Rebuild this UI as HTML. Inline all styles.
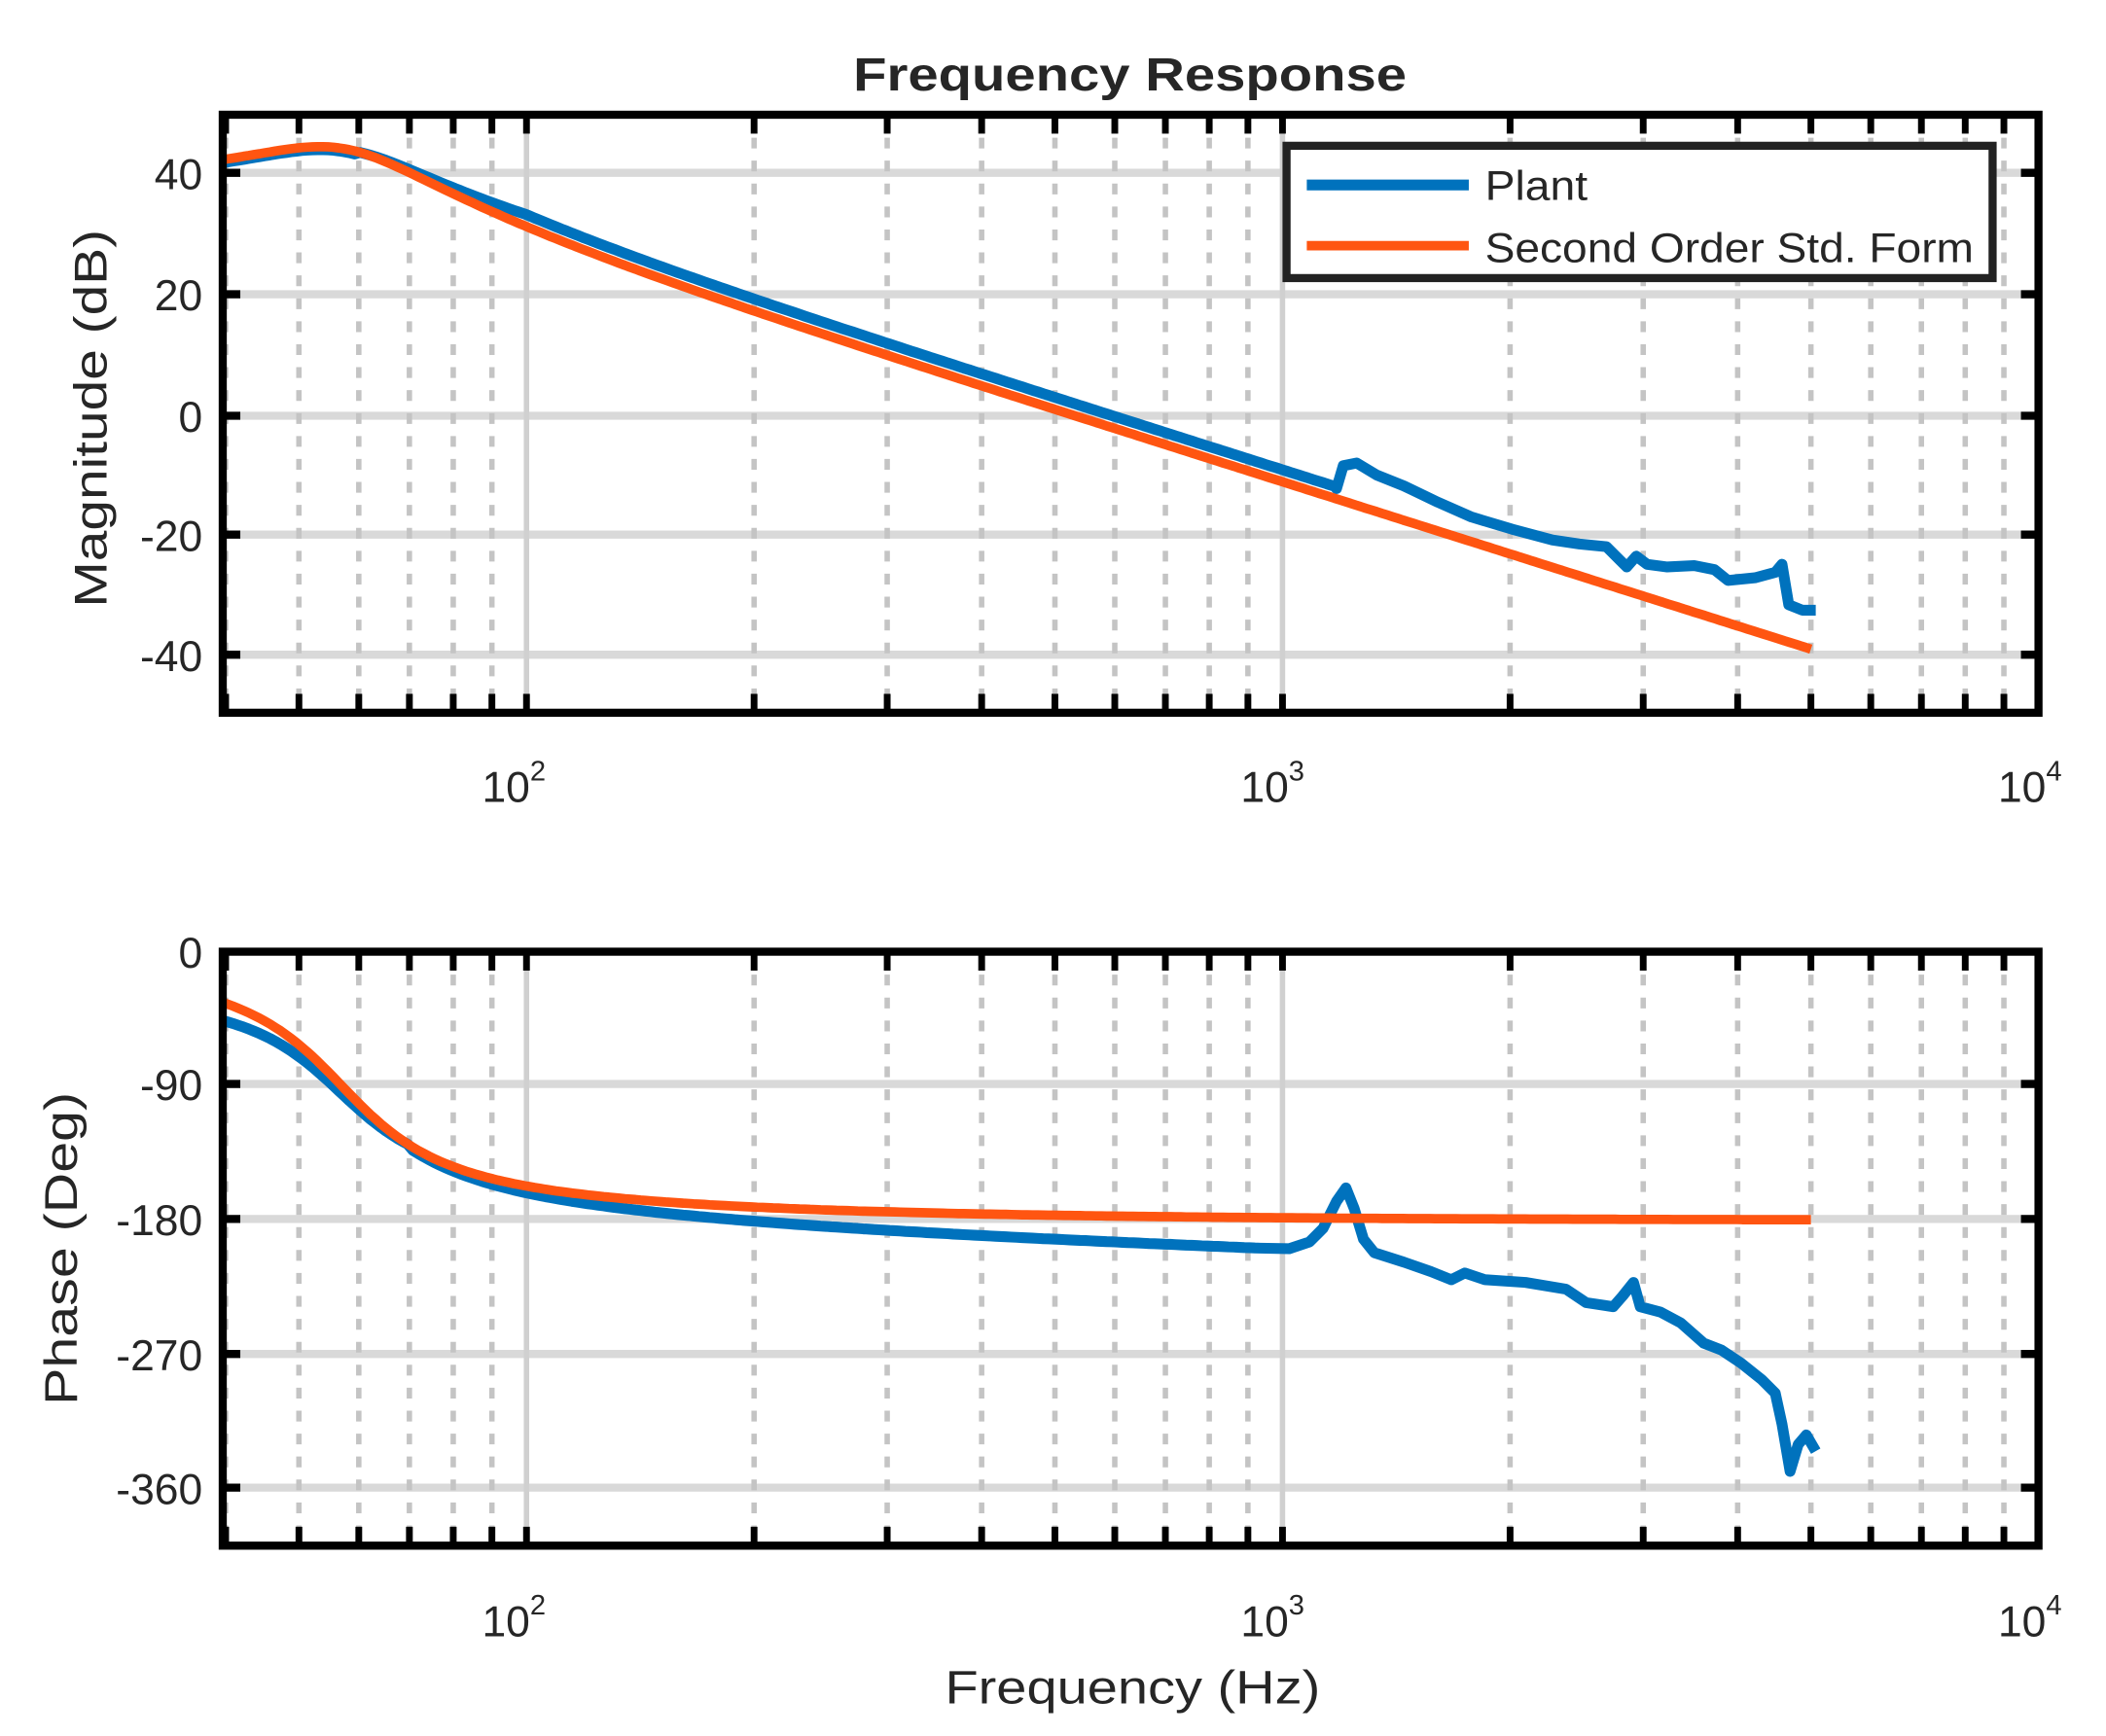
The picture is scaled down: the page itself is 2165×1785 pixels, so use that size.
<!DOCTYPE html>
<html><head><meta charset="utf-8"><style>
html,body{margin:0;padding:0;background:#fff;}
svg{display:block;}
text{font-family:"Liberation Sans",sans-serif;fill:#262626;}
</style></head><body>
<svg id="s" width="2165" height="1785" viewBox="0 0 1560 1286" preserveAspectRatio="none" xmlns="http://www.w3.org/2000/svg">
<rect width="1560" height="1286" fill="#fff"/>
<g id="g"></g>
<text x="837" y="67" text-anchor="middle" font-size="35" font-weight="bold" fill="#000" textLength="410" lengthAdjust="spacingAndGlyphs">Frequency Response</text>
<text transform="translate(79,310) rotate(-90)" text-anchor="middle" font-size="34" textLength="280" lengthAdjust="spacingAndGlyphs">Magnitude (dB)</text>
<text transform="translate(57,925) rotate(-90)" text-anchor="middle" font-size="34" textLength="232" lengthAdjust="spacingAndGlyphs">Phase (Deg)</text>
<text x="839" y="1262" text-anchor="middle" font-size="35" textLength="278" lengthAdjust="spacingAndGlyphs">Frequency (Hz)</text>
<g font-size="32" text-anchor="end">
<text x="150" y="140">40</text><text x="150" y="230">20</text><text x="150" y="320">0</text><text x="150" y="408">-20</text><text x="150" y="497">-40</text>
<text x="150" y="717">0</text><text x="150" y="815">-90</text><text x="150" y="915">-180</text><text x="150" y="1015">-270</text><text x="150" y="1114">-360</text>
</g>
<g font-size="32">
<text x="357" y="594">10<tspan font-size="21" dy="-16">2</tspan></text>
<text x="919" y="594">10<tspan font-size="21" dy="-16">3</tspan></text>
<text x="1480" y="594">10<tspan font-size="21" dy="-16">4</tspan></text>
<text x="357" y="1212">10<tspan font-size="21" dy="-16">2</tspan></text>
<text x="919" y="1212">10<tspan font-size="21" dy="-16">3</tspan></text>
<text x="1480" y="1212">10<tspan font-size="21" dy="-16">4</tspan></text>
</g>
</svg>
<script>
var NS="http://www.w3.org/2000/svg",g=document.getElementById("g");
function el(t,a){var e=document.createElementNS(NS,t);for(var k in a)e.setAttribute(k,a[k]);g.appendChild(e);return e;}
function X(f){return 390+560*(Math.log10(f)-2);}
var L=165,R=1510;
var axes=[[85,528,[128,218,308,396,485]],[705,1145,[803,903,1003,1102]]];
axes.forEach(function(a){
 var T=a[0],B=a[1];
 a[2].forEach(function(y){el("line",{x1:L,x2:R,y1:y,y2:y,stroke:"#d9d9d9","stroke-width":6});});
 for(var d=1;d<=3;d++)for(var m=1;m<=9;m++){var f=m*Math.pow(10,d);var x=X(f);if(x<=L+2||x>=R-2)continue;
  if(m==1)el("line",{x1:x,x2:x,y1:T,y2:B,stroke:"#d0d0d0","stroke-width":4});
  else el("line",{x1:x,x2:x,y1:T,y2:B,stroke:"#c4c4c4","stroke-width":4,"stroke-dasharray":"8,9"});
  el("line",{x1:x,x2:x,y1:T,y2:T+14,stroke:"#000","stroke-width":5});
  el("line",{x1:x,x2:x,y1:B,y2:B-14,stroke:"#000","stroke-width":5});}
 a[2].forEach(function(y){el("line",{x1:L,x2:L+13,y1:y,y2:y,stroke:"#000","stroke-width":6});el("line",{x1:R,x2:R-13,y1:y,y2:y,stroke:"#000","stroke-width":6});});
});
var fn=57,z=0.25,K=38.7;
function H(f){var r=f/fn,re=1-r*r,im=2*z*r;return [K-20*Math.log10(Math.sqrt(re*re+im*im)),-Math.atan2(im,re)*180/Math.PI];}
function YM(d){return 308-d*4.43;}function YP(p){return 705-p*1.105;}
var om="",op="",bm="",bp="";
for(var i=0;i<=300;i++){var f=Math.pow(10,Math.log10(39.6)+i*(Math.log10(5000)-Math.log10(39.6))/300);var h=H(f);
 om+=(i?"L":"M")+X(f).toFixed(1)+","+YM(h[0]).toFixed(1);
 op+=(i?"L":"M")+X(f).toFixed(1)+","+YP(h[1]).toFixed(1);
 if(f<=1180){var off=f<60?-0.5:(f<100?(f-60)/40*2:2);bm+=(bm?"L":"M")+X(f).toFixed(1)+","+YM(h[0]+off).toFixed(1);}
 if(f<=940){var lf=Math.log10(f),ex;
  if(f<70)ex=12*(70-f)/30;else ex=2+ (lf-Math.log10(70))/(3-Math.log10(70))*19;
  bp+=(bp?"L":"M")+X(f).toFixed(1)+","+YP(h[1]-ex).toFixed(1);}
}
bm+="L990,362L995,345L1005,343L1020,352L1040,360L1065,372L1090,383L1120,392L1150,400L1170,403L1190,405L1200,415L1205,420L1212,412L1220,418L1235,420L1255,419L1270,422L1280,430L1300,428L1315,424L1320,418L1325,448L1335,452L1345,452";
bp+="L955,925L970,920L980,910L990,890L997,880L1003,895L1010,918L1018,928L1040,935L1060,942L1075,948L1085,943L1100,948L1130,950L1160,955L1175,965L1195,968L1202,960L1210,950L1215,968L1230,972L1245,980L1262,995L1275,1000L1290,1010L1305,1022L1315,1032L1320,1055L1326,1090L1332,1070L1338,1063L1345,1075";
el("path",{d:bm,fill:"none",stroke:"#0072bd","stroke-width":8,"stroke-linejoin":"round"});
el("path",{d:om,fill:"none",stroke:"#ff5511","stroke-width":7,"stroke-linejoin":"round"});
el("path",{d:bp,fill:"none",stroke:"#0072bd","stroke-width":8,"stroke-linejoin":"round"});
el("path",{d:op,fill:"none",stroke:"#ff5511","stroke-width":7,"stroke-linejoin":"round"});
axes.forEach(function(a){el("rect",{x:L,y:a[0],width:R-L,height:a[1]-a[0],fill:"none",stroke:"#000","stroke-width":6});});
el("rect",{x:953,y:108,width:523,height:98,fill:"#fff",stroke:"#222","stroke-width":6});
el("line",{x1:968,x2:1088,y1:137,y2:137,stroke:"#0072bd","stroke-width":8});
el("line",{x1:968,x2:1088,y1:182,y2:182,stroke:"#ff5511","stroke-width":7});
var t1=el("text",{x:1100,y:148,"font-size":31,textLength:76,lengthAdjust:"spacingAndGlyphs"});t1.textContent="Plant";
var t2=el("text",{x:1100,y:194,"font-size":31,textLength:362,lengthAdjust:"spacingAndGlyphs"});t2.textContent="Second Order Std. Form";
</script>
</body></html>
